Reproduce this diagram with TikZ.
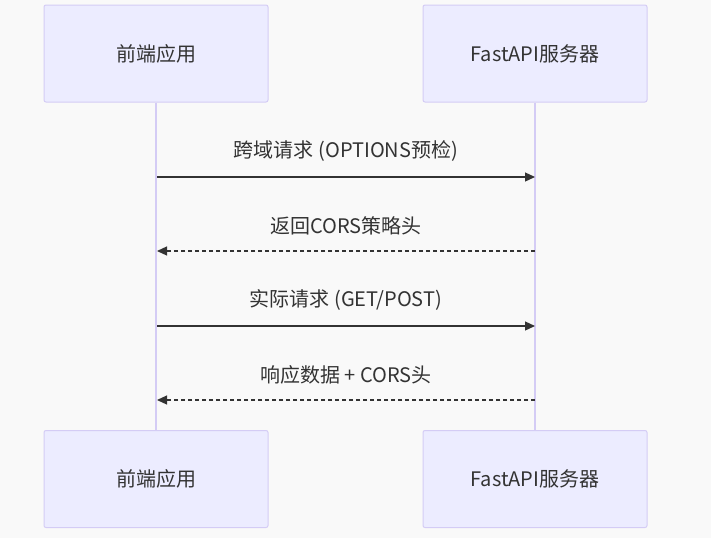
\documentclass[tikz,border=0pt]{standalone}
\usepackage{fontspec}
\setmainfont{Noto Sans CJK SC}
\usetikzlibrary{arrows.meta,positioning}

\definecolor{actorfill}{HTML}{ECECFF}
\definecolor{actorline}{HTML}{D4CCF5}
\definecolor{msgline}{HTML}{333333}
\definecolor{bgcol}{HTML}{F9F9F9}

\begin{document}
\begin{tikzpicture}[x=1pt,y=-1pt,font=\fontsize{20}{24}\selectfont,text=msgline]
	\tikzstyle{actor}=[draw=actorline,fill=actorfill,rounded corners=2pt,minimum width=224pt,minimum height=97pt,line width=1pt]
	\tikzstyle{lifeline}=[draw=actorline,line width=1.5pt]
	\tikzstyle{call}=[-{Triangle[length=10pt,width=9pt]},draw=msgline,line width=1.2pt]
	\tikzstyle{reply}=[call,dashed,dash pattern=on 4pt off 3pt]

  \fill[bgcol] (0,0) rectangle (711,538);
  \useasboundingbox (0,0) rectangle (711,538);

  \node[actor] (FE)  at (156,53.5)  {前端应用};
  \node[actor] (API) at (535,53.5)  {FastAPI服务器};
  \node[actor] (FEb)  at (156,479)  {前端应用};
  \node[actor] (APIb) at (535,479)  {FastAPI服务器};

  \draw[lifeline] (FE.south) -- (FEb.north);
  \draw[lifeline] (API.south) -- (APIb.north);

  \coordinate (f1) at (157,177); \coordinate (a1) at (535,177);
  \coordinate (f2) at (157,251); \coordinate (a2) at (535,251);
  \coordinate (f3) at (157,326); \coordinate (a3) at (535,326);
  \coordinate (f4) at (157,400); \coordinate (a4) at (535,400);

  \draw[call]  (f1) -- node[above=12pt] {跨域请求 (OPTIONS预检)} (a1);
  \draw[reply] (a2) -- node[above=12pt] {返回CORS策略头} (f2);
  \draw[call]  (f3) -- node[above=12pt] {实际请求 (GET/POST)} (a3);
  \draw[reply] (a4) -- node[above=12pt] {响应数据 + CORS头} (f4);

\end{tikzpicture}
\end{document}
